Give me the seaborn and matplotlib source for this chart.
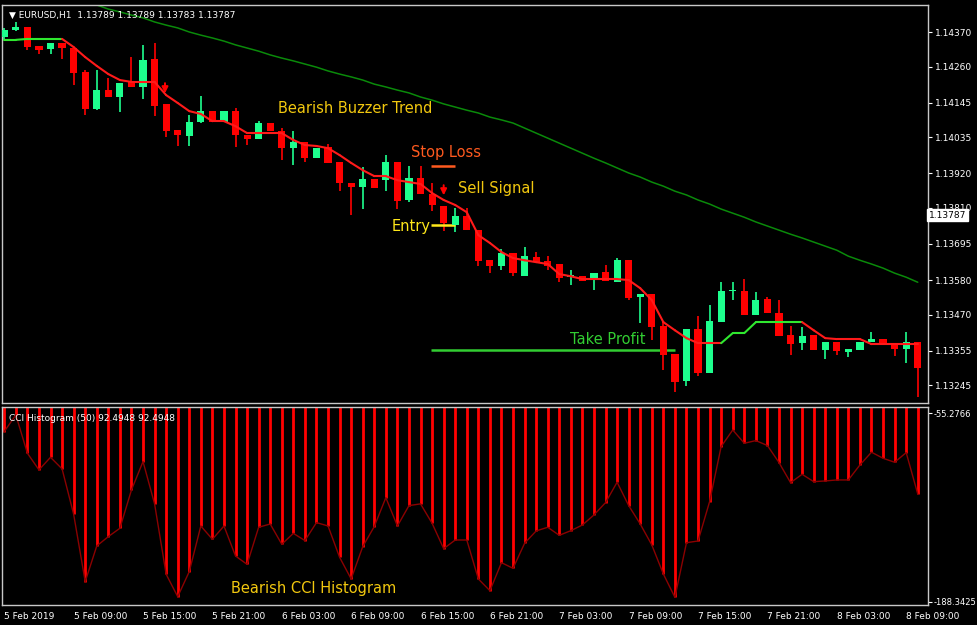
import matplotlib
matplotlib.use("Agg")
import matplotlib.pyplot as plt
import numpy as np
import pandas as pd
import seaborn as sns

# EURUSD H1 candles (open, high, low, close)
opens = [1.14354, 1.14376, 1.14386, 1.14325, 1.14316, 1.14335, 1.14319, 1.14243, 1.14125, 1.14185,
         1.14163, 1.14211, 1.14195, 1.14284, 1.14141, 1.14058, 1.14039, 1.14083, 1.14118, 1.14083,
         1.14118, 1.14042, 1.14029, 1.14080, 1.14055, 1.14000, 1.14019, 1.13968, 1.14004, 1.13956,
         1.13889, 1.13876, 1.13902, 1.13898, 1.13956, 1.13835, 1.13905, 1.13854, 1.13816, 1.13755,
         1.13784, 1.13739, 1.13643, 1.13624, 1.13666, 1.13592, 1.13653, 1.13640, 1.13631, 1.13589,
         1.13592, 1.13580, 1.13605, 1.13573, 1.13643, 1.13525, 1.13535, 1.13433, 1.13344, 1.13258,
         1.13423, 1.13283, 1.13446, 1.13545, 1.13545, 1.13468, 1.13519, 1.13474, 1.13404, 1.13379,
         1.13404, 1.13357, 1.13382, 1.13350, 1.13357, 1.13382, 1.13392, 1.13376, 1.13360, 1.13382]
highs = [1.14383, 1.14402, 1.14386, 1.14325, 1.14335, 1.14335, 1.14319, 1.14249, 1.14249, 1.14223,
         1.14207, 1.14290, 1.14329, 1.14335, 1.14141, 1.14058, 1.14105, 1.14166, 1.14118, 1.14118,
         1.14128, 1.14042, 1.14086, 1.14080, 1.14064, 1.14055, 1.14019, 1.14000, 1.14013, 1.13956,
         1.13889, 1.13940, 1.13902, 1.13978, 1.13956, 1.13943, 1.13943, 1.13889, 1.13816, 1.13809,
         1.13809, 1.13739, 1.13643, 1.13678, 1.13666, 1.13685, 1.13669, 1.13656, 1.13631, 1.13612,
         1.13592, 1.13602, 1.13628, 1.13650, 1.13643, 1.13535, 1.13535, 1.13446, 1.13344, 1.13423,
         1.13465, 1.13500, 1.13573, 1.13573, 1.13583, 1.13541, 1.13525, 1.13516, 1.13433, 1.13430,
         1.13404, 1.13382, 1.13382, 1.13360, 1.13382, 1.13414, 1.13392, 1.13376, 1.13414, 1.13382]
lows = [1.14345, 1.14373, 1.14313, 1.14300, 1.14300, 1.14284, 1.14201, 1.14105, 1.14121, 1.14163,
        1.14115, 1.14195, 1.14156, 1.14102, 1.14035, 1.14006, 1.14007, 1.14080, 1.14083, 1.14083,
        1.14004, 1.14010, 1.14029, 1.14055, 1.13962, 1.13946, 1.13956, 1.13968, 1.13953, 1.13863,
        1.13787, 1.13806, 1.13873, 1.13863, 1.13806, 1.13828, 1.13854, 1.13800, 1.13736, 1.13733,
        1.13739, 1.13624, 1.13602, 1.13612, 1.13592, 1.13592, 1.13637, 1.13612, 1.13573, 1.13564,
        1.13577, 1.13548, 1.13577, 1.13573, 1.13516, 1.13443, 1.13388, 1.13293, 1.13223, 1.13242,
        1.13274, 1.13283, 1.13446, 1.13516, 1.13468, 1.13468, 1.13474, 1.13401, 1.13341, 1.13357,
        1.13357, 1.13328, 1.13341, 1.13334, 1.13357, 1.13382, 1.13376, 1.13338, 1.13315, 1.13206]
closes = [1.14376, 1.14386, 1.14322, 1.14313, 1.14335, 1.14319, 1.14239, 1.14125, 1.14185, 1.14163,
          1.14207, 1.14195, 1.14281, 1.14134, 1.14055, 1.14042, 1.14083, 1.14118, 1.14083, 1.14118,
          1.14042, 1.14029, 1.14080, 1.14055, 1.14000, 1.14019, 1.13968, 1.14000, 1.13953, 1.13889,
          1.13876, 1.13902, 1.13873, 1.13956, 1.13831, 1.13905, 1.13854, 1.13819, 1.13761, 1.13784,
          1.13739, 1.13640, 1.13624, 1.13666, 1.13602, 1.13658, 1.13637, 1.13624, 1.13586, 1.13596,
          1.13577, 1.13602, 1.13577, 1.13643, 1.13522, 1.13535, 1.13430, 1.13341, 1.13255, 1.13423,
          1.13283, 1.13449, 1.13545, 1.13546, 1.13468, 1.13516, 1.13474, 1.13401, 1.13376, 1.13401,
          1.13357, 1.13382, 1.13353, 1.13360, 1.13382, 1.13392, 1.13376, 1.13360, 1.13382, 1.13299]

# Buzzer trend line and its direction (1 = up / green, 0 = down / red)
buzzer = [1.14345, 1.14345, 1.14348, 1.14348, 1.14348, 1.14348, 1.14322, 1.14290, 1.14262, 1.14236,
          1.14217, 1.14211, 1.14211, 1.14211, 1.14169, 1.14144, 1.14118, 1.14109, 1.14086, 1.14086,
          1.14070, 1.14048, 1.14048, 1.14048, 1.14048, 1.14026, 1.14010, 1.14007, 1.14000, 1.13978,
          1.13953, 1.13930, 1.13911, 1.13911, 1.13898, 1.13892, 1.13886, 1.13857, 1.13835, 1.13819,
          1.13796, 1.13723, 1.13698, 1.13669, 1.13650, 1.13643, 1.13637, 1.13631, 1.13599, 1.13592,
          1.13583, 1.13583, 1.13583, 1.13583, 1.13580, 1.13554, 1.13516, 1.13446, 1.13420, 1.13395,
          1.13379, 1.13379, 1.13379, 1.13411, 1.13411, 1.13446, 1.13446, 1.13446, 1.13446, 1.13446,
          1.13420, 1.13395, 1.13392, 1.13392, 1.13392, 1.13376, 1.13376, 1.13376, 1.13376, 1.13376]
buzzer_up = [1] * 6 + [0] * 57 + [1] * 7 + [0] * 10

# slow moving average (green)
sma = [1.14529, 1.14520, 1.14510, 1.14501, 1.14491, 1.14482, 1.14472, 1.14466, 1.14456, 1.14443,
       1.14434, 1.14424, 1.14415, 1.14402, 1.14392, 1.14383, 1.14370, 1.14360, 1.14351, 1.14341,
       1.14329, 1.14319, 1.14309, 1.14297, 1.14287, 1.14278, 1.14268, 1.14258, 1.14246, 1.14236,
       1.14227, 1.14217, 1.14204, 1.14195, 1.14185, 1.14176, 1.14163, 1.14153, 1.14141, 1.14131,
       1.14121, 1.14112, 1.14099, 1.14090, 1.14080, 1.14064, 1.14048, 1.14032, 1.14016, 1.14000,
       1.13984, 1.13968, 1.13953, 1.13937, 1.13921, 1.13908, 1.13892, 1.13879, 1.13863, 1.13851,
       1.13835, 1.13822, 1.13806, 1.13793, 1.13780, 1.13765, 1.13752, 1.13739, 1.13726, 1.13714,
       1.13701, 1.13688, 1.13675, 1.13656, 1.13643, 1.13631, 1.13618, 1.13602, 1.13589, 1.13573]

cci = [-68.2, -56.5, -83.5, -95.3, -86.4, -94.6, -126.6, -174.2, -149.0, -142.4,
       -136.5, -109.5, -89.4, -119.3, -169.0, -184.8, -167.1, -134.9, -144.3, -134.9,
       -156.1, -162.0, -135.8, -133.5, -147.8, -140.1, -145.2, -132.5, -134.9, -157.0,
       -172.3, -149.5, -135.3, -114.9, -134.9, -120.5, -119.3, -133.0, -150.9, -144.8,
       -144.8, -172.3, -180.6, -160.8, -164.8, -147.1, -138.4, -135.8, -141.5, -138.2,
       -134.2, -127.1, -118.4, -104.0, -120.5, -133.5, -148.3, -168.8, -185.3, -146.7,
       -145.5, -117.7, -78.8, -67.1, -76.5, -74.6, -78.1, -90.1, -104.3, -98.4,
       -103.6, -103.1, -102.4, -102.4, -91.8, -82.8, -87.1, -89.9, -83.1, -112.3]

price_ticks = [1.14370, 1.14260, 1.14145, 1.14035, 1.13920, 1.13810, 1.13695,
               1.13580, 1.13470, 1.13355, 1.13245]
date_labels = ["5 Feb 2019", "5 Feb 09:00", "5 Feb 15:00", "5 Feb 21:00", "6 Feb 03:00",
               "6 Feb 09:00", "6 Feb 15:00", "6 Feb 21:00", "7 Feb 03:00", "7 Feb 09:00",
               "7 Feb 15:00", "7 Feb 21:00", "8 Feb 03:00", "8 Feb 09:00"]
sell_arrows = [13.9, 38.0]

df = pd.DataFrame({"o": opens, "h": highs, "l": lows, "c": closes,
                   "buzzer": buzzer, "up": buzzer_up, "sma": sma, "cci": cci})
df["i"] = np.arange(len(df))

sns.set_style("dark", {"axes.facecolor": "black", "figure.facecolor": "black",
                       "axes.edgecolor": "#c8c8c8", "grid.color": "black"})
plt.rcParams["font.family"] = ["DejaVu Sans"]

BULL, BEAR = "#1dff8e", "#ff0000"
GOLD = "#f2c80f"

fig = plt.figure(figsize=(9.77, 6.25), dpi=100)
ax = fig.add_axes([0.002, 0.355, 0.948, 0.637])
ax2 = fig.add_axes([0.002, 0.032, 0.948, 0.317])

xl = (-0.2, 79.9)
ax.set_xlim(*xl)
ax.set_ylim(1.13188, 1.14456)
ax2.set_xlim(*xl)
ax2.set_ylim(-190.7, -50.8)

# candles
for _, r in df.iterrows():
    col = BULL if r.c >= r.o else BEAR
    ax.vlines(r.i, r.l, r.h, color=col, lw=1.2, zorder=2)
    lo, hi = min(r.o, r.c), max(r.o, r.c)
    ax.bar(r.i, max(hi - lo, 0.000025), bottom=lo, width=0.62, color=col,
           linewidth=0, edgecolor="none", zorder=3)

sns.lineplot(data=df, x="i", y="sma", ax=ax, color="#0a8a0a", lw=1.1, zorder=1)
for k in range(len(df) - 1):
    seg = df.iloc[k:k + 2]
    col = "#2fe82f" if df.up[k + 1] else "#ff1a1a"
    ax.plot(seg.i, seg.buzzer, color=col, lw=1.5, zorder=4)

# signal arrows
for a in sell_arrows:
    y = df.h[int(round(a))] + 0.00045
    ax.annotate("", xy=(a, y - 0.0002), xytext=(a, y + 0.0003),
                arrowprops=dict(arrowstyle="-|>", color=BEAR, lw=1.4, mutation_scale=9))

# trade annotations
ax.text(23.7, 1.14125, "Bearish Buzzer Trend", color=GOLD, fontsize=10.5, va="center")
ax.text(35.2, 1.13985, "Stop Loss", color="#ff5a1f", fontsize=10.5, va="center")
ax.hlines(1.13943, 36.9, 39.0, color="#ff5a1f", lw=1.8)
ax.text(39.2, 1.13870, "Sell Signal", color=GOLD, fontsize=10.5, va="center")
ax.text(33.5, 1.13752, "Entry", color="#ffe81a", fontsize=10.5, va="center")
ax.hlines(1.13755, 36.9, 39.0, color="#ffe81a", lw=1.8)
ax.hlines(1.13357, 36.9, 58.0, color="#32cd32", lw=1.8)
ax.text(48.9, 1.13392, "Take Profit", color="#32cd32", fontsize=10.5, va="center")

ax.text(0.008, 0.985, "\u25bc EURUSD,H1  1.13789 1.13789 1.13783 1.13787", color="white",
        fontsize=6.5, transform=ax.transAxes, va="top")

ax.yaxis.tick_right()
ax.set_yticks(price_ticks)
ax.set_yticklabels([f"{t:.5f}" for t in price_ticks])
ax.tick_params(axis="y", colors="white", labelsize=6.5, length=3, direction="out", pad=2)
ax.set_xticks([])
ax.set_xlabel("")
ax.set_ylabel("")
ax.text(1.001, (1.13787 - 1.13188) / (1.14456 - 1.13188), "1.13787", transform=ax.transAxes,
        fontsize=6.5, color="black", va="center", ha="left", zorder=10,
        bbox=dict(boxstyle="square,pad=0.2", fc="white", ec="white"))

# CCI histogram
ax2.vlines(df.i, -50.8, df.cci, color=BEAR, lw=2.0)
sns.lineplot(data=df, x="i", y="cci", ax=ax2, color="#8b0000", lw=1.0)
ax2.text(0.008, 0.965, "CCI Histogram (50) 92.4948 92.4948", color="white", fontsize=6.5,
         transform=ax2.transAxes, va="top")
ax2.text(19.6, -178.7, "Bearish CCI Histogram", color=GOLD, fontsize=10.5, va="center")
ax2.yaxis.tick_right()
ax2.set_yticks([-55.2766, -188.3425])
ax2.set_yticklabels(["-55.2766", "-188.3425"])
ax2.tick_params(axis="y", colors="white", labelsize=6.0, length=3, pad=1)
ax2.set_xticks(np.arange(0, 79, 6))
ax2.set_xticklabels(date_labels, ha="left")
ax2.tick_params(axis="x", colors="white", labelsize=6.5, length=3, pad=2)
ax2.set_xlabel("")
ax2.set_ylabel("")

for a in (ax, ax2):
    a.grid(False)
    for s in a.spines.values():
        s.set_color("#c8c8c8")
        s.set_linewidth(1.0)

fig.savefig("out.png", dpi=100, facecolor="black")
